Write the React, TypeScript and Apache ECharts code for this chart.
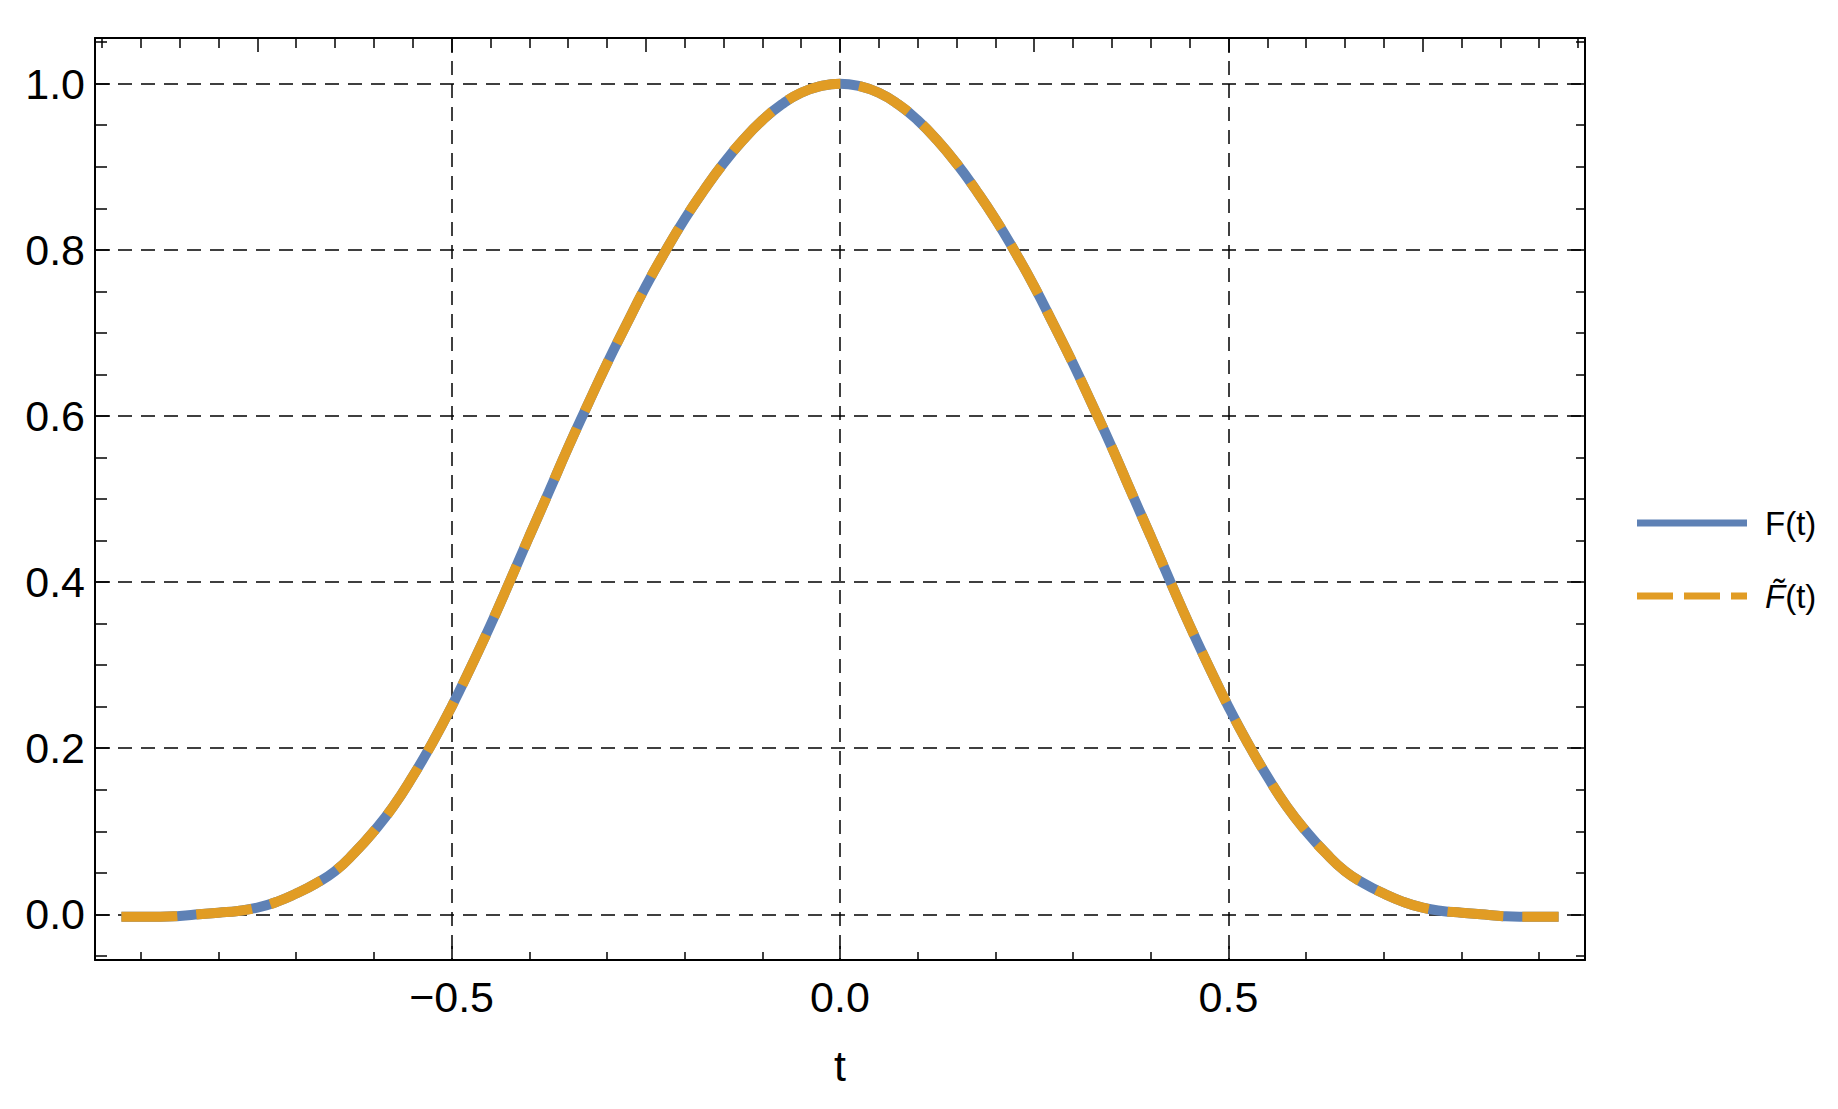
import React, { useEffect, useRef } from "react";
import * as echarts from "echarts";

// ---- data ----
const tValues = [
  -0.925, -0.9, -0.875, -0.85, -0.825, -0.8, -0.775, -0.75, -0.725, -0.7, -0.675, -0.65,
  -0.625, -0.6, -0.575, -0.55, -0.525, -0.5, -0.475, -0.45, -0.425, -0.4, -0.375, -0.35,
  -0.325, -0.3, -0.275, -0.25, -0.225, -0.2, -0.175, -0.15, -0.125, -0.1, -0.075, -0.05,
  -0.025, 0, 0.025, 0.05, 0.075, 0.1, 0.125, 0.15, 0.175, 0.2, 0.225, 0.25, 0.275, 0.3,
  0.325, 0.35, 0.375, 0.4, 0.425, 0.45, 0.475, 0.5, 0.525, 0.55, 0.575, 0.6, 0.625, 0.65,
  0.675, 0.7, 0.725, 0.75, 0.775, 0.8, 0.825, 0.85, 0.875, 0.9, 0.925,
];
const fValues = [
  -0.003, -0.003, -0.003, -0.002, 0.0, 0.002, 0.004, 0.008, 0.015, 0.025, 0.037, 0.052,
  0.074, 0.1, 0.13, 0.166, 0.206, 0.25, 0.298, 0.348, 0.401, 0.455, 0.508, 0.562,
  0.613, 0.663, 0.71, 0.756, 0.798, 0.837, 0.872, 0.904, 0.932, 0.956, 0.975, 0.989,
  0.997, 1.0, 0.997, 0.989, 0.975, 0.956, 0.932, 0.904, 0.872, 0.837, 0.798, 0.756, 0.71, 0.663,
  0.613, 0.562, 0.508, 0.455, 0.401, 0.348, 0.298, 0.25, 0.206, 0.166, 0.13, 0.1, 0.074, 0.052,
  0.037, 0.025, 0.015, 0.008, 0.004, 0.002, 0.0, -0.002, -0.003, -0.003, -0.003,
];
const fTildeValues = [
  -0.003, -0.003, -0.003, -0.002, 0.0, 0.002, 0.004, 0.008, 0.015, 0.025, 0.037, 0.052,
  0.074, 0.1, 0.13, 0.166, 0.206, 0.25, 0.298, 0.348, 0.401, 0.455, 0.508, 0.562,
  0.613, 0.663, 0.71, 0.756, 0.798, 0.837, 0.872, 0.904, 0.932, 0.956, 0.975, 0.989,
  0.997, 1.0, 0.997, 0.989, 0.975, 0.956, 0.932, 0.904, 0.872, 0.837, 0.798, 0.756, 0.71, 0.663,
  0.613, 0.562, 0.508, 0.455, 0.401, 0.348, 0.298, 0.25, 0.206, 0.166, 0.13, 0.1, 0.074, 0.052,
  0.037, 0.025, 0.015, 0.008, 0.004, 0.002, 0.0, -0.002, -0.003, -0.003, -0.003,
];

const X_MIN = -0.959;
const X_MAX = 0.959;
const Y_MIN = -0.055;
const Y_MAX = 1.055;

const xLabelTicks = [-0.5, 0, 0.5];
const xBottomMinorTicks = [-0.9, -0.8, -0.7, -0.6, -0.4, -0.3, -0.2, -0.1, 0.1, 0.2, 0.3, 0.4, 0.6, 0.7, 0.8, 0.9];
const xTopMinorTicks = [
  -0.95, -0.9, -0.85, -0.8, -0.7, -0.65, -0.6, -0.55, -0.45, -0.4, -0.35, -0.3, -0.2,
  -0.15, -0.1, -0.05, 0.05, 0.1, 0.15, 0.2, 0.3, 0.35, 0.4, 0.45, 0.55, 0.6, 0.65, 0.7,
  0.8, 0.85, 0.9, 0.95,
];
const xTopMediumTicks = [-0.75, -0.25, 0.25, 0.75];
const yLabelTicks = [0, 0.2, 0.4, 0.6, 0.8, 1.0];
const yMinorTicks = [
  -0.05, 0.05, 0.1, 0.15, 0.25, 0.3, 0.35, 0.45, 0.5, 0.55, 0.65, 0.7, 0.75, 0.85, 0.9, 0.95, 1.05,
];

const seriesNames = ["F(t)", "F\u0303(t)"];

const FONT = "'Liberation Sans', Arial, sans-serif";
const BLUE = "#5E81B5";
const ORANGE = "#E19C24";

function fmt(v: number): string {
  const s = Math.abs(v).toFixed(1);
  return v < 0 ? "\u2212" + s : s;
}

function tickAxis(position: string, values: number[], length: number, showLine: boolean, min: number, max: number) {
  return {
    type: "value",
    position,
    min,
    max,
    axisLine: { show: showLine, onZero: false, lineStyle: { color: "#000", width: 2 } },
    axisTick: { show: true, inside: true, length, customValues: values, lineStyle: { color: "#000", width: 1.5 } },
    axisLabel: { show: false },
    splitLine: { show: false },
  };
}

export default function App() {
  const ref = useRef<HTMLDivElement>(null);

  useEffect(() => {
    if (!ref.current) return;
    const chart = echarts.init(ref.current, null, { renderer: "svg" });
    const gridLine = { show: true, lineStyle: { color: "#000", width: 1.5, type: [14, 9] } };
    const legendX = 1637;
    const legendW = 110;
    const legendY = [523, 596];
    const option = {
      animation: false,
      backgroundColor: "#fff",
      grid: { left: 95, right: 253, top: 38, bottom: 149, containLabel: false },
      xAxis: [
        {
          type: "value",
          position: "bottom",
          min: X_MIN,
          max: X_MAX,
          axisLine: { show: true, onZero: false, lineStyle: { color: "#000", width: 2 } },
          axisTick: { show: true, inside: true, length: 14, customValues: xLabelTicks, lineStyle: { color: "#000", width: 1.5 } },
          axisLabel: {
            customValues: xLabelTicks,
            formatter: (v: number) => fmt(v),
            fontSize: 43,
            fontFamily: FONT,
            color: "#000",
            margin: 15,
          },
          splitLine: gridLine,
          name: "t",
          nameLocation: "middle",
          nameGap: 84,
          nameTextStyle: { fontSize: 43, fontFamily: FONT, color: "#000" },
        },
        tickAxis("bottom", xBottomMinorTicks, 8, false, X_MIN, X_MAX),
        tickAxis("top", xTopMinorTicks, 10, true, X_MIN, X_MAX),
        tickAxis("top", xTopMediumTicks, 14, false, X_MIN, X_MAX),
        tickAxis("top", xLabelTicks, 15, false, X_MIN, X_MAX),
      ],
      yAxis: [
        {
          type: "value",
          position: "left",
          min: Y_MIN,
          max: Y_MAX,
          axisLine: { show: true, onZero: false, lineStyle: { color: "#000", width: 2 } },
          axisTick: { show: true, inside: true, length: 15, customValues: yLabelTicks, lineStyle: { color: "#000", width: 1.5 } },
          axisLabel: {
            customValues: yLabelTicks,
            formatter: (v: number) => fmt(v),
            fontSize: 43,
            fontFamily: FONT,
            color: "#000",
            margin: 10,
          },
          splitLine: gridLine,
        },
        tickAxis("left", yMinorTicks, 12, false, Y_MIN, Y_MAX),
        tickAxis("right", yMinorTicks, 9, true, Y_MIN, Y_MAX),
        tickAxis("right", yLabelTicks, 14, false, Y_MIN, Y_MAX),
      ],
      graphic: [
        {
          type: "line",
          shape: { x1: legendX, y1: legendY[0], x2: legendX + legendW, y2: legendY[0] },
          style: { stroke: BLUE, lineWidth: 7, lineCap: "butt" },
        },
        {
          type: "line",
          shape: { x1: legendX, y1: legendY[1], x2: legendX + legendW, y2: legendY[1] },
          style: { stroke: ORANGE, lineWidth: 7, lineCap: "butt", lineDash: [36, 11] },
        },
        {
          type: "text",
          x: legendX + legendW + 18,
          y: legendY[0],
          style: {
            text: "{n|F(t)}",
            verticalAlign: "middle",
            align: "left",
            rich: { n: { fontSize: 33, fontFamily: FONT, fill: "#000" } },
          },
        },
        {
          type: "text",
          x: legendX + legendW + 18,
          y: legendY[1],
          style: {
            text: "{i|F\u0303}{n|(t)}",
            verticalAlign: "middle",
            align: "left",
            rich: {
              n: { fontSize: 33, fontFamily: FONT, fill: "#000" },
              i: { fontSize: 33, fontFamily: FONT, fill: "#000", fontStyle: "italic" },
            },
          },
        },
      ],
      series: [
        {
          name: seriesNames[0],
          type: "line",
          xAxisIndex: 0,
          yAxisIndex: 0,
          data: tValues.map((t, i) => [t, fValues[i]]),
          smooth: true,
          symbol: "none",
          showSymbol: false,
          color: BLUE,
          lineStyle: { color: BLUE, width: 10, cap: "butt" },
          z: 3,
        },
        {
          name: seriesNames[1],
          type: "line",
          xAxisIndex: 0,
          yAxisIndex: 0,
          data: tValues.map((t, i) => [t, fTildeValues[i]]),
          smooth: true,
          symbol: "none",
          showSymbol: false,
          color: ORANGE,
          lineStyle: { color: ORANGE, width: 10, type: [56, 19], cap: "butt" },
          z: 4,
        },
      ],
    };
    chart.setOption(option as any);
    return () => chart.dispose();
  }, []);

  return (
    <div
      ref={ref}
      style={{ position: "fixed", left: 0, top: 0, width: 1838, height: 1109, background: "#fff" }}
    />
  );
}
